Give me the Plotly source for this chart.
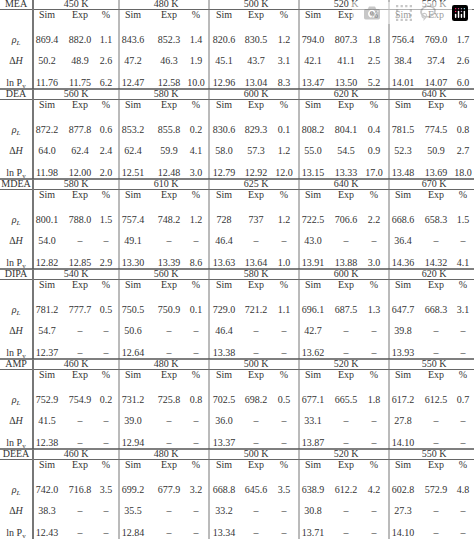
import plotly.graph_objects as go

# table data, one block per amine
molecules = ["MEA", "DEA", "MDEA", "DIPA", "AMP", "DEEA"]
temps = [
    ["450 K", "480 K", "500 K", "520 K", "550 K"],
    ["560 K", "580 K", "600 K", "620 K", "640 K"],
    ["580 K", "610 K", "625 K", "640 K", "670 K"],
    ["540 K", "560 K", "580 K", "600 K", "620 K"],
    ["460 K", "480 K", "500 K", "520 K", "550 K"],
    ["460 K", "480 K", "500 K", "520 K", "550 K"],
]
rho = [
    ["869.4", "882.0", "1.1", "843.6", "852.3", "1.4", "820.6", "830.5", "1.2", "794.0", "807.3", "1.8", "756.4", "769.0", "1.7"],
    ["872.2", "877.8", "0.6", "853.2", "855.8", "0.2", "830.6", "829.3", "0.1", "808.2", "804.1", "0.4", "781.5", "774.5", "0.8"],
    ["800.1", "788.0", "1.5", "757.4", "748.2", "1.2", "728", "737", "1.2", "722.5", "706.6", "2.2", "668.6", "658.3", "1.5"],
    ["781.2", "777.7", "0.5", "750.5", "750.9", "0.1", "729.0", "721.2", "1.1", "696.1", "687.5", "1.3", "647.7", "668.3", "3.1"],
    ["752.9", "754.9", "0.2", "731.2", "725.8", "0.8", "702.5", "698.2", "0.5", "677.1", "665.5", "1.8", "617.2", "612.5", "0.7"],
    ["742.0", "716.8", "3.5", "699.2", "677.9", "3.2", "668.8", "645.6", "3.5", "638.9", "612.2", "4.2", "602.8", "572.9", "4.8"],
]
dh = [
    ["50.2", "48.9", "2.6", "47.2", "46.3", "1.9", "45.1", "43.7", "3.1", "42.1", "41.1", "2.5", "38.4", "37.4", "2.6"],
    ["64.0", "62.4", "2.4", "62.4", "59.9", "4.1", "58.0", "57.3", "1.2", "55.0", "54.5", "0.9", "52.3", "50.9", "2.7"],
    ["54.0", "–", "–", "49.1", "–", "–", "46.4", "–", "–", "43.0", "–", "–", "36.4", "–", "–"],
    ["54.7", "–", "–", "50.6", "–", "–", "46.4", "–", "–", "42.7", "–", "–", "39.8", "–", "–"],
    ["41.5", "–", "–", "39.0", "–", "–", "36.0", "–", "–", "33.1", "–", "–", "27.8", "–", "–"],
    ["38.3", "–", "–", "35.5", "–", "–", "33.2", "–", "–", "30.8", "–", "–", "27.3", "–", "–"],
]
lnp = [
    ["11.76", "11.75", "6.2", "12.47", "12.58", "10.0", "12.96", "13.04", "8.3", "13.47", "13.50", "5.2", "14.01", "14.07", "6.0"],
    ["11.98", "12.00", "2.0", "12.51", "12.48", "3.0", "12.79", "12.92", "12.0", "13.15", "13.33", "17.0", "13.48", "13.69", "18.0"],
    ["12.82", "12.85", "2.9", "13.30", "13.39", "8.6", "13.63", "13.64", "1.0", "13.91", "13.88", "3.0", "14.36", "14.32", "4.1"],
    ["12.37", "–", "–", "12.64", "–", "–", "13.38", "–", "–", "13.62", "–", "–", "13.93", "–", "–"],
    ["12.38", "–", "–", "12.94", "–", "–", "13.37", "–", "–", "13.87", "–", "–", "14.10", "–", "–"],
    ["12.43", "–", "–", "12.84", "–", "–", "13.34", "–", "–", "13.71", "–", "–", "14.10", "–", "–"],
]
row_labels = ["<i>ρ<sub>L</sub></i>", "Δ<i>H</i>", "ln P<sub>v</sub>"]
sub_heads = ["Sim", "Exp", "%"]

# layout geometry (pixels)
W, H = 474, 540
BLOCK = 90
col_x = [[47, 80, 106], [133, 169, 196], [224, 256, 284], [313, 346, 374], [403, 436, 463]]
group_mid = [76, 166, 256, 346, 434]
vlines = [33, 119, 209, 299, 389]
FONT = "Liberation Serif, DejaVu Serif, serif"
INK = "#333"

xs, ys, ts = [], [], []
shapes = []
for b, mol in enumerate(molecules):
    y0 = b * BLOCK
    xs.append(16); ys.append(y0 + 4); ts.append(mol)
    for g in range(5):
        xs.append(group_mid[g]); ys.append(y0 + 4); ts.append(temps[b][g])
        for k in range(3):
            xs.append(col_x[g][k]); ys.append(y0 + 15); ts.append(sub_heads[k])
    for r, vals in enumerate([rho[b], dh[b], lnp[b]]):
        yy = y0 + [40, 61, 83][r]
        xs.append(16); ys.append(yy); ts.append(row_labels[r])
        for i, v in enumerate(vals):
            xs.append(col_x[i // 3][i % 3]); ys.append(yy); ts.append(v)
    # rules
    shapes.append(dict(type="line", x0=0, x1=W, y0=y0 + 9.5, y1=y0 + 9.5,
                       line=dict(color="#666", width=1)))
    if b > 0:
        shapes.append(dict(type="line", x0=0, x1=W, y0=y0 - 1, y1=y0 - 1,
                           line=dict(color="#555", width=1.5)))
    for vx in vlines:
        w = 2 if vx == 33 else 1
        shapes.append(dict(type="line", x0=vx, x1=vx, y0=y0 - 1, y1=y0 + BLOCK - 1,
                           line=dict(color="#777", width=w)))

fig = go.Figure(go.Scatter(x=xs, y=ys, text=ts, mode="text",
                           textfont=dict(family=FONT, size=10, color=INK),
                           hoverinfo="skip", cliponaxis=False))
fig.update_layout(autosize=True, margin=dict(l=0, r=0, t=0, b=0),
                  plot_bgcolor="white", paper_bgcolor="white", showlegend=False,
                  shapes=shapes)
fig.update_xaxes(range=[0, W], visible=False, fixedrange=True)
fig.update_yaxes(range=[H, 0], visible=False, fixedrange=True)
fig.write_html("out.html", default_width="100vw", default_height="100vh",
               post_script="document.body.style.margin='0';document.body.style.overflow='hidden';")
